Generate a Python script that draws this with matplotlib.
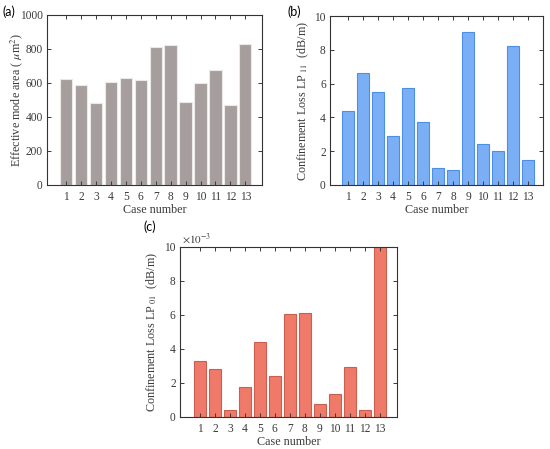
import matplotlib
matplotlib.use('Agg')
import matplotlib.pyplot as plt
from matplotlib.ticker import FuncFormatter

# datos
casos = list(range(1, 14))
area_efectiva = [623, 588, 480, 604, 629, 616, 808, 822, 490, 600, 676, 470, 831]
perdida_lp11 = [4.38, 6.63, 5.48, 2.88, 5.74, 3.75, 0.99, 0.89, 9.09, 2.45, 1.99, 8.22, 1.48]
perdida_lp01 = [3.29e-3, 2.84e-3, 0.41e-3, 1.75e-3, 4.41e-3, 2.41e-3, 6.08e-3,
                6.12e-3, 0.78e-3, 1.37e-3, 2.92e-3, 0.43e-3, 10.1e-3]

plt.rcParams['font.family'] = 'Liberation Serif'
plt.rcParams['mathtext.fontset'] = 'stix'
plt.rcParams['font.size'] = 8

gris = '#3a3a3a'
fig = plt.figure(figsize=(5.5, 4.49), dpi=100)


def estilo(ax, xlim):
    ax.set_xlim(*xlim)
    ax.set_xticks(casos)
    ax.tick_params(direction='in', top=True, right=True, length=3, width=0.7,
                   labelsize=8.3, colors=gris, pad=4)
    ax.tick_params(axis='y', pad=3)
    for s in ax.spines.values():
        s.set_linewidth(0.8)
        s.set_color('#333333')
    ax.set_xlabel('Case number', fontsize=8.7, color=gris, labelpad=1)


# (a)
ax1 = fig.add_axes([0.0855, 0.588, 0.391, 0.379])
ax1.bar(casos, area_efectiva, width=0.82, color='#a69e9d', edgecolor='#ebe8e8', linewidth=0.8)
ax1.set_ylim(0, 1000)
ax1.set_yticks([0, 200, 400, 600, 800, 1000])
estilo(ax1, (-0.27, 14.12))
ax1.set_ylabel(r'Effective mode area ( $\mu$m$^2$)', fontsize=8.7, color=gris)
ax1.yaxis.set_label_coords(-0.104, 0.5)

# (b)
ax2 = fig.add_axes([0.600, 0.588, 0.387, 0.376])
ax2.bar(casos, perdida_lp11, width=0.82, color='#7aaff6', edgecolor='#4d8fe6', linewidth=0.8)
ax2.set_ylim(0, 10)
ax2.set_yticks([0, 2, 4, 6, 8, 10])
estilo(ax2, (-0.22, 14.0))
ax2.set_ylabel(r'Confinement Loss LP$_{\ 11}$  (dB/m)', fontsize=8.7, color=gris)
ax2.yaxis.set_label_coords(-0.09, 0.5)

# (c)
ax3 = fig.add_axes([0.327, 0.0713, 0.395, 0.379])
ax3.bar(casos, perdida_lp01, width=0.82, color='#f07a6a', edgecolor='#c9604f', linewidth=0.8)
ax3.set_ylim(0, 10e-3)
ax3.set_yticks([0, 2e-3, 4e-3, 6e-3, 8e-3, 10e-3])
ax3.yaxis.set_major_formatter(FuncFormatter(lambda v, p: '%g' % round(v * 1e3, 6)))
estilo(ax3, (-0.34, 14.16))
ax3.set_ylabel(r'Confinement Loss LP$_{\ 01}$  (dB/m)', fontsize=8.7, color=gris)
ax3.yaxis.set_label_coords(-0.09, 0.5)
ax3.text(0.01, 1.005, r'$\times 10^{-3}$', transform=ax3.transAxes, fontsize=8,
         color=gris, va='bottom', ha='left')

# etiquetas de panel
fig.text(0.005, 0.988, '(a)', family='Lato', fontsize=9, va='top')
fig.text(0.522, 0.988, '(b)', family='Lato', fontsize=9, va='top')
fig.text(0.260, 0.508, '(c)', family='Lato', fontsize=9, va='top')

fig.savefig('out.png', dpi=100)
